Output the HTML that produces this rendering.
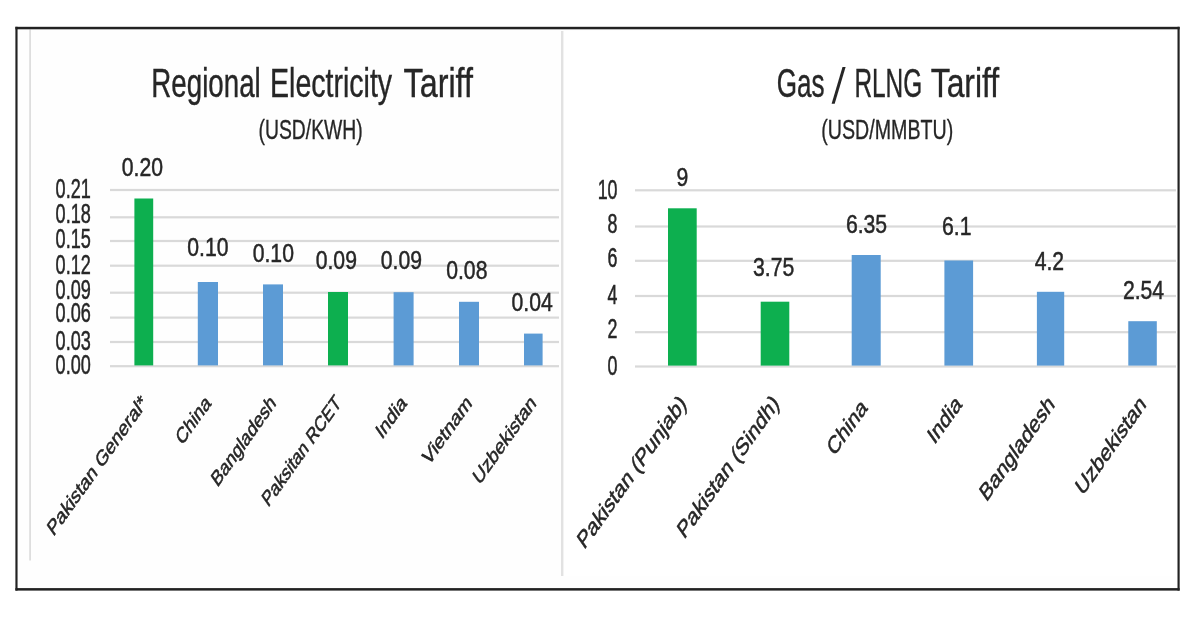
<!DOCTYPE html>
<html><head><meta charset="utf-8"><title>Tariff charts</title>
<style>
html,body{margin:0;padding:0;background:#fff;}
body{width:1200px;height:630px;overflow:hidden;font-family:"Liberation Sans",sans-serif;}
svg{display:block;font-family:"Liberation Sans",sans-serif;}
</style></head><body>
<svg width="1200" height="630" viewBox="0 0 1200 630">
<defs><filter id="soft" x="0" y="0" width="1200" height="630" filterUnits="userSpaceOnUse"><feGaussianBlur stdDeviation="0.6"/></filter></defs>
<rect x="0" y="0" width="1200" height="630" fill="#ffffff"/>
<g filter="url(#soft)">

<rect x="17" y="29" width="1161" height="560" fill="#fefefe"/>
<rect x="29.2" y="29.5" width="1.8" height="531" fill="#dedede"/>
<rect x="110" y="188.9" width="449" height="2.2" fill="#d9d9d9"/>
<rect x="110" y="216.2" width="449" height="2.2" fill="#d9d9d9"/>
<rect x="110" y="239.9" width="449" height="2.2" fill="#d9d9d9"/>
<rect x="110" y="264.6" width="449" height="2.2" fill="#d9d9d9"/>
<rect x="110" y="291.6" width="449" height="2.2" fill="#d9d9d9"/>
<rect x="110" y="316.5" width="449" height="2.2" fill="#d9d9d9"/>
<rect x="110" y="340.9" width="449" height="2.2" fill="#d9d9d9"/>
<rect x="110" y="365.1" width="449" height="2.2" fill="#d9d9d9"/>
<text transform="translate(90.8,198.3) scale(0.665,1)" font-size="27.2" text-anchor="end" fill="#262626" stroke="#262626" stroke-width="0.45" vector-effect="non-scaling-stroke">0.21</text>
<text transform="translate(90.8,222.9) scale(0.665,1)" font-size="27.2" text-anchor="end" fill="#262626" stroke="#262626" stroke-width="0.45" vector-effect="non-scaling-stroke">0.18</text>
<text transform="translate(90.8,247.5) scale(0.665,1)" font-size="27.2" text-anchor="end" fill="#262626" stroke="#262626" stroke-width="0.45" vector-effect="non-scaling-stroke">0.15</text>
<text transform="translate(90.8,273.5) scale(0.665,1)" font-size="27.2" text-anchor="end" fill="#262626" stroke="#262626" stroke-width="0.45" vector-effect="non-scaling-stroke">0.12</text>
<text transform="translate(90.8,298.5) scale(0.665,1)" font-size="27.2" text-anchor="end" fill="#262626" stroke="#262626" stroke-width="0.45" vector-effect="non-scaling-stroke">0.09</text>
<text transform="translate(90.8,322.3) scale(0.665,1)" font-size="27.2" text-anchor="end" fill="#262626" stroke="#262626" stroke-width="0.45" vector-effect="non-scaling-stroke">0.06</text>
<text transform="translate(90.8,350.0) scale(0.665,1)" font-size="27.2" text-anchor="end" fill="#262626" stroke="#262626" stroke-width="0.45" vector-effect="non-scaling-stroke">0.03</text>
<text transform="translate(90.8,374.4) scale(0.665,1)" font-size="27.2" text-anchor="end" fill="#262626" stroke="#262626" stroke-width="0.45" vector-effect="non-scaling-stroke">0.00</text>
<rect x="134.4" y="198.5" width="18.8" height="166.9" fill="#09af50"/>
<text transform="translate(142.4,176.2) scale(0.8,1)" font-size="26.5" text-anchor="middle" fill="#262626" stroke="#262626" stroke-width="0.45" vector-effect="non-scaling-stroke">0.20</text>
<rect x="197.8" y="282" width="20.2" height="83.4" fill="#5b9bd5"/>
<text transform="translate(207.9,256.4) scale(0.8,1)" font-size="26.5" text-anchor="middle" fill="#262626" stroke="#262626" stroke-width="0.45" vector-effect="non-scaling-stroke">0.10</text>
<rect x="263" y="284.4" width="20.0" height="81.0" fill="#5b9bd5"/>
<text transform="translate(273.3,261.9) scale(0.8,1)" font-size="26.5" text-anchor="middle" fill="#262626" stroke="#262626" stroke-width="0.45" vector-effect="non-scaling-stroke">0.10</text>
<rect x="328" y="292" width="20.0" height="73.4" fill="#09af50"/>
<text transform="translate(336.3,269.2) scale(0.8,1)" font-size="26.5" text-anchor="middle" fill="#262626" stroke="#262626" stroke-width="0.45" vector-effect="non-scaling-stroke">0.09</text>
<rect x="393.6" y="292.2" width="20.0" height="73.2" fill="#5b9bd5"/>
<text transform="translate(401.4,269.2) scale(0.8,1)" font-size="26.5" text-anchor="middle" fill="#262626" stroke="#262626" stroke-width="0.45" vector-effect="non-scaling-stroke">0.09</text>
<rect x="459" y="301.8" width="20.0" height="63.6" fill="#5b9bd5"/>
<text transform="translate(466.8,279) scale(0.8,1)" font-size="26.5" text-anchor="middle" fill="#262626" stroke="#262626" stroke-width="0.45" vector-effect="non-scaling-stroke">0.08</text>
<rect x="524" y="333.6" width="18.6" height="31.8" fill="#5b9bd5"/>
<text transform="translate(532.1,311.3) scale(0.8,1)" font-size="26.5" text-anchor="middle" fill="#262626" stroke="#262626" stroke-width="0.45" vector-effect="non-scaling-stroke">0.04</text>
<text transform="translate(147.6,404.3) scale(0.71,1) rotate(-45) scale(1.0,0.94)" font-size="23.3" text-anchor="end" fill="#262626" stroke="#262626" stroke-width="0.55" vector-effect="non-scaling-stroke">Pakistan General*</text>
<text transform="translate(211.7,404.3) scale(0.71,1) rotate(-45) scale(0.97,0.94)" font-size="23.3" text-anchor="end" fill="#262626" stroke="#262626" stroke-width="0.55" vector-effect="non-scaling-stroke">China</text>
<text transform="translate(276.8,404.3) scale(0.71,1) rotate(-45) scale(0.96,0.94)" font-size="23.3" text-anchor="end" fill="#262626" stroke="#262626" stroke-width="0.55" vector-effect="non-scaling-stroke">Bangladesh</text>
<text transform="translate(341.8,404.3) scale(0.71,1) rotate(-45) scale(0.92,0.94)" font-size="23.3" text-anchor="end" fill="#262626" stroke="#262626" stroke-width="0.55" vector-effect="non-scaling-stroke">Paksitan RCET</text>
<text transform="translate(407.4,404.3) scale(0.71,1) rotate(-45) scale(1.0,0.94)" font-size="23.3" text-anchor="end" fill="#262626" stroke="#262626" stroke-width="0.55" vector-effect="non-scaling-stroke">India</text>
<text transform="translate(472.8,404.3) scale(0.71,1) rotate(-45) scale(1.03,0.94)" font-size="23.3" text-anchor="end" fill="#262626" stroke="#262626" stroke-width="0.55" vector-effect="non-scaling-stroke">Vietnam</text>
<text transform="translate(537.1,404.3) scale(0.71,1) rotate(-45) scale(1.0,0.94)" font-size="23.3" text-anchor="end" fill="#262626" stroke="#262626" stroke-width="0.55" vector-effect="non-scaling-stroke">Uzbekistan</text>
<text transform="translate(151.30,97.4) scale(0.67,1)" font-size="41.4" text-anchor="start" fill="#262626" stroke="#262626" stroke-width="0.35" vector-effect="non-scaling-stroke">Regional</text>
<text transform="translate(270.00,97.4) scale(0.69,1)" font-size="41.4" text-anchor="start" fill="#262626" stroke="#262626" stroke-width="0.35" vector-effect="non-scaling-stroke">Electricity</text>
<text transform="translate(403.60,97.4) scale(0.78,1)" font-size="41.4" text-anchor="start" fill="#262626" stroke="#262626" stroke-width="0.35" vector-effect="non-scaling-stroke">Tariff</text>
<text transform="translate(258.50,138.5) scale(0.72,1)" font-size="26.9" text-anchor="start" fill="#262626" stroke="#262626" stroke-width="0.3" vector-effect="non-scaling-stroke">(USD/KWH)</text>
<rect x="561" y="31" width="616" height="545" fill="#ffffff"/>
<rect x="561" y="31" width="2.4" height="545" fill="#e2e2e2"/>
<rect x="635" y="189.2" width="541" height="2.2" fill="#d9d9d9"/>
<rect x="635" y="225.4" width="541" height="2.2" fill="#d9d9d9"/>
<rect x="635" y="259.7" width="541" height="2.2" fill="#d9d9d9"/>
<rect x="635" y="294.9" width="541" height="2.2" fill="#d9d9d9"/>
<rect x="635" y="331.1" width="541" height="2.2" fill="#d9d9d9"/>
<rect x="635" y="365.4" width="541" height="2.2" fill="#d9d9d9"/>
<text transform="translate(617.5,198.9) scale(0.66,1)" font-size="27.0" text-anchor="end" fill="#262626" stroke="#262626" stroke-width="0.45" vector-effect="non-scaling-stroke">10</text>
<text transform="translate(617.5,233.4) scale(0.66,1)" font-size="27.0" text-anchor="end" fill="#262626" stroke="#262626" stroke-width="0.45" vector-effect="non-scaling-stroke">8</text>
<text transform="translate(617.5,267.0) scale(0.66,1)" font-size="27.0" text-anchor="end" fill="#262626" stroke="#262626" stroke-width="0.45" vector-effect="non-scaling-stroke">6</text>
<text transform="translate(617.5,303.5) scale(0.66,1)" font-size="27.0" text-anchor="end" fill="#262626" stroke="#262626" stroke-width="0.45" vector-effect="non-scaling-stroke">4</text>
<text transform="translate(617.5,338.1) scale(0.66,1)" font-size="27.0" text-anchor="end" fill="#262626" stroke="#262626" stroke-width="0.45" vector-effect="non-scaling-stroke">2</text>
<text transform="translate(617.5,375.0) scale(0.66,1)" font-size="27.0" text-anchor="end" fill="#262626" stroke="#262626" stroke-width="0.45" vector-effect="non-scaling-stroke">0</text>
<rect x="668" y="208.3" width="28.7" height="157.3" fill="#09af50"/>
<text transform="translate(682.3,186.2) scale(0.8,1)" font-size="26.5" text-anchor="middle" fill="#262626" stroke="#262626" stroke-width="0.45" vector-effect="non-scaling-stroke">9</text>
<rect x="760.7" y="301.7" width="28.6" height="63.9" fill="#09af50"/>
<text transform="translate(773.7,276.2) scale(0.8,1)" font-size="26.5" text-anchor="middle" fill="#262626" stroke="#262626" stroke-width="0.45" vector-effect="non-scaling-stroke">3.75</text>
<rect x="851.7" y="255" width="29.0" height="110.6" fill="#5b9bd5"/>
<text transform="translate(866.5,232.9) scale(0.8,1)" font-size="26.5" text-anchor="middle" fill="#262626" stroke="#262626" stroke-width="0.45" vector-effect="non-scaling-stroke">6.35</text>
<rect x="944.4" y="260.5" width="28.7" height="105.1" fill="#5b9bd5"/>
<text transform="translate(956.8,235.2) scale(0.8,1)" font-size="26.5" text-anchor="middle" fill="#262626" stroke="#262626" stroke-width="0.45" vector-effect="non-scaling-stroke">6.1</text>
<rect x="1036.9" y="291.8" width="27.3" height="73.8" fill="#5b9bd5"/>
<text transform="translate(1049.4,269.8) scale(0.8,1)" font-size="26.5" text-anchor="middle" fill="#262626" stroke="#262626" stroke-width="0.45" vector-effect="non-scaling-stroke">4.2</text>
<rect x="1128.3" y="321.2" width="28.5" height="44.4" fill="#5b9bd5"/>
<text transform="translate(1143.5,298.8) scale(0.8,1)" font-size="26.5" text-anchor="middle" fill="#262626" stroke="#262626" stroke-width="0.45" vector-effect="non-scaling-stroke">2.54</text>
<text transform="translate(687.35,405) scale(0.71,1) rotate(-45) scale(1,0.94)" font-size="26" text-anchor="end" fill="#262626" stroke="#262626" stroke-width="0.55" vector-effect="non-scaling-stroke">Pakistan (Punjab)</text>
<text transform="translate(780.0,405) scale(0.71,1) rotate(-45) scale(1,0.94)" font-size="26" text-anchor="end" fill="#262626" stroke="#262626" stroke-width="0.55" vector-effect="non-scaling-stroke">Pakistan (Sindh)</text>
<text transform="translate(868.2,409) scale(0.71,1) rotate(-45) scale(1,0.94)" font-size="26" text-anchor="end" fill="#262626" stroke="#262626" stroke-width="0.55" vector-effect="non-scaling-stroke">China</text>
<text transform="translate(962.75,405.5) scale(0.71,1) rotate(-45) scale(1,0.94)" font-size="26" text-anchor="end" fill="#262626" stroke="#262626" stroke-width="0.55" vector-effect="non-scaling-stroke">India</text>
<text transform="translate(1055.55,405.5) scale(0.71,1) rotate(-45) scale(1,0.94)" font-size="26" text-anchor="end" fill="#262626" stroke="#262626" stroke-width="0.55" vector-effect="non-scaling-stroke">Bangladesh</text>
<text transform="translate(1147.05,405.5) scale(0.71,1) rotate(-45) scale(1,0.94)" font-size="26" text-anchor="end" fill="#262626" stroke="#262626" stroke-width="0.55" vector-effect="non-scaling-stroke">Uzbekistan</text>
<text transform="translate(776.80,96.8) scale(0.63,1)" font-size="41.4" text-anchor="start" fill="#262626" stroke="#262626" stroke-width="0.35" vector-effect="non-scaling-stroke">Gas</text>
<text transform="translate(854.40,96.8) scale(0.59,1)" font-size="41.4" text-anchor="start" fill="#262626" stroke="#262626" stroke-width="0.35" vector-effect="non-scaling-stroke">RLNG</text>
<text transform="translate(930.70,96.8) scale(0.77,1)" font-size="41.4" text-anchor="start" fill="#262626" stroke="#262626" stroke-width="0.35" vector-effect="non-scaling-stroke">Tariff</text>
<polygon points="831.6,103.8 834.7,103.8 845.6,66.9 842.5,66.9" fill="#262626"/>
<text transform="translate(821.30,138.6) scale(0.73,1)" font-size="26.9" text-anchor="start" fill="#262626" stroke="#262626" stroke-width="0.3" vector-effect="non-scaling-stroke">(USD/MMBTU)</text>
<rect x="15.4" y="26.8" width="1164.2" height="2.5" fill="#202020"/>
<rect x="15.4" y="588.1" width="1164.2" height="2.5" fill="#202020"/>
<rect x="15.4" y="26.8" width="2.15" height="563.8" fill="#202020"/>
<rect x="1177.5" y="26.8" width="2.15" height="563.8" fill="#202020"/>
</g></svg></body></html>
